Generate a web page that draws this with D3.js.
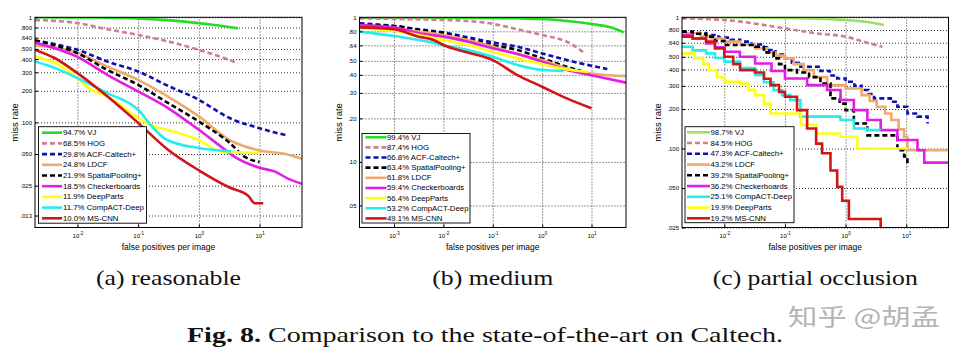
<!DOCTYPE html>
<html>
<head>
<meta charset="utf-8">
<script src="https://cdn.jsdelivr.net/npm/d3@7"></script>
<style>
  body { margin: 0; background: #fff; }
  svg text { font-family: "Liberation Sans", Arial, sans-serif; }
</style>
</head>
<body>
<div id="chart"></div>
<script>
/* DATA */
// method keys, one list per panel (legend order)
const methodsA = ["VJ", "HOG", "ACF-Caltech+", "LDCF", "SpatialPooling+", "Checkerboards", "DeepParts", "CompACT-Deep", "MS-CNN"];
const methodsB = ["VJ", "HOG", "ACF-Caltech+", "SpatialPooling+", "LDCF", "Checkerboards", "DeepParts", "CompACT-Deep", "MS-CNN"];
const methodsC = ["VJ", "HOG", "ACF-Caltech+", "LDCF", "SpatialPooling+", "Checkerboards", "CompACT-Deep", "DeepParts", "MS-CNN"];

const labelsA = ["94.7% VJ", "68.5% HOG", "29.8% ACF-Caltech+", "24.8% LDCF", "21.9% SpatialPooling+", "18.5% Checkerboards", "11.9% DeepParts", "11.7% CompACT-Deep", "10.0% MS-CNN"];
const labelsB = ["99.4% VJ", "87.4% HOG", "66.8% ACF-Caltech+", "63.4% SpatialPooling+", "61.8% LDCF", "59.4% Checkerboards", "56.4% DeepParts", "53.2% CompACT-Deep", "49.1% MS-CNN"];
const labelsC = ["98.7% VJ", "84.5% HOG", "47.3% ACF-Caltech+", "43.2% LDCF", "39.2% SpatialPooling+", "36.2% Checkerboards", "25.1% CompACT-Deep", "19.9% DeepParts", "19.2% MS-CNN"];

// [false positives per image, miss rate]
const curvesA = [
  [[0.002,1.0],[0.02,0.995],[0.06,0.985],[0.1,0.975],[0.3,0.94],[1,0.88],[2.3,0.83],[4.4,0.785]],
  [[0.002,0.94],[0.005,0.92],[0.01,0.88],[0.031,0.77],[0.1,0.68],[0.31,0.59],[1,0.49],[2.3,0.42],[4.4,0.365]],
  [[0.002,0.6],[0.004,0.56],[0.01,0.49],[0.031,0.38],[0.1,0.305],[0.31,0.223],[1,0.164],[3.2,0.11],[10,0.088],[18,0.08],[26.6,0.076]],
  [[0.002,0.54],[0.01,0.46],[0.031,0.34],[0.1,0.254],[0.31,0.176],[1,0.114],[3.2,0.068],[10,0.054],[26.6,0.05],[50,0.045]],
  [[0.002,0.6],[0.01,0.455],[0.031,0.316],[0.1,0.228],[0.31,0.153],[1,0.102],[3.2,0.064],[5.7,0.047],[10,0.042]],
  [[0.002,0.575],[0.01,0.42],[0.031,0.284],[0.1,0.197],[0.31,0.137],[1,0.085],[2.3,0.059],[3.9,0.047],[10,0.037],[18,0.034],[30,0.029],[50,0.026]],
  [[0.002,0.42],[0.0042,0.37],[0.01,0.264],[0.0153,0.212],[0.031,0.177],[0.1,0.11],[0.176,0.092],[0.3,0.085],[1,0.068],[2.3,0.053],[10,0.051]],
  [[0.002,0.38],[0.0042,0.33],[0.01,0.264],[0.031,0.19],[0.1,0.132],[0.176,0.089],[0.3,0.068],[1,0.057],[3.4,0.053]],
  [[0.002,0.49],[0.0042,0.41],[0.01,0.294],[0.031,0.177],[0.1,0.099],[0.31,0.055],[1,0.035],[3.2,0.024],[6.5,0.02],[8.4,0.017],[11.5,0.017]]
];
const curvesB = [
  [[0.0002,0.995],[0.01,0.995],[0.1,0.99],[0.316,0.985],[1,0.974],[3.16,0.943],[10,0.899],[24,0.852],[45,0.787]],
  [[0.0002,0.984],[0.001,0.975],[0.01,0.958],[0.0316,0.943],[0.1,0.9],[0.316,0.826],[1,0.754],[3.16,0.678],[7,0.57]],
  [[0.0002,0.909],[0.001,0.871],[0.00316,0.826],[0.01,0.787],[0.0316,0.727],[0.1,0.671],[0.316,0.626],[1,0.563],[3.16,0.506],[10,0.462],[21,0.439]],
  [[0.0002,0.885],[0.001,0.87],[0.00316,0.817],[0.01,0.775],[0.0316,0.704],[0.1,0.643],[0.316,0.594],[1,0.52],[3.16,0.455],[7,0.42]],
  [[0.0002,0.862],[0.001,0.839],[0.00316,0.796],[0.01,0.754],[0.0316,0.697],[0.1,0.626],[0.316,0.557],[1,0.506],[3.16,0.443],[10,0.409],[50,0.392]],
  [[0.0002,0.885],[0.001,0.852],[0.00316,0.775],[0.01,0.735],[0.0316,0.678],[0.1,0.61],[0.316,0.557],[1,0.493],[3.16,0.432],[10,0.398],[50,0.353]],
  [[0.0002,0.839],[0.001,0.809],[0.00316,0.754],[0.01,0.697],[0.0316,0.643],[0.1,0.578],[0.316,0.52],[1,0.475],[3.16,0.436],[8.5,0.42]],
  [[0.0002,0.796],[0.001,0.743],[0.00316,0.697],[0.0063,0.668],[0.01,0.64],[0.0316,0.594],[0.1,0.534],[0.316,0.468],[1,0.432],[2.75,0.425]],
  [[0.0002,0.852],[0.001,0.826],[0.00316,0.735],[0.0063,0.697],[0.01,0.643],[0.0316,0.57],[0.1,0.506],[0.316,0.398],[1,0.331],[3.16,0.275],[10,0.235]]
];
const curvesC = [
  [[0.002,1.0],[0.1,0.99],[0.5,0.97],[1,0.954],[2.3,0.92],[4.3,0.874]],
  [[0.002,0.98],[0.01,0.954],[0.1,0.824],[0.327,0.755],[1,0.712],[2.29,0.64],[4.05,0.597]],
  [[0.002,0.777],[0.003,0.76],[0.005,0.733],[0.008,0.7],[0.0125,0.675],[0.0182,0.652],[0.028,0.62],[0.04,0.59],[0.0504,0.563],[0.07,0.52],[0.1,0.486],[0.13,0.45],[0.18,0.42],[0.385,0.39],[0.55,0.36],[0.728,0.342],[1,0.323],[1.4,0.3],[1.84,0.279],[2.4,0.26],[2.95,0.241],[5.57,0.227],[7.18,0.208],[10.5,0.185],[15.4,0.175],[22.6,0.155]],
  [[0.002,0.755],[0.004,0.72],[0.006,0.69],[0.01,0.652],[0.018,0.62],[0.0322,0.58],[0.05,0.54],[0.07,0.51],[0.1,0.486],[0.14,0.44],[0.204,0.396],[0.3,0.35],[0.497,0.304],[1,0.287],[1.84,0.255],[2.5,0.23],[3.27,0.208],[4.5,0.185],[5.7,0.165],[7.5,0.14],[9.26,0.123],[10.5,0.097],[50,0.097]],
  [[0.002,0.777],[0.003,0.75],[0.005,0.712],[0.007,0.66],[0.01,0.615],[0.0322,0.597],[0.045,0.54],[0.0649,0.486],[0.08,0.44],[0.1,0.396],[0.158,0.38],[0.25,0.35],[0.385,0.313],[0.564,0.241],[0.8,0.22],[1,0.196],[1.37,0.155],[2.29,0.126],[4.91,0.126],[7.18,0.097],[9.26,0.087],[10.5,0.073]],
  [[0.002,0.733],[0.003,0.69],[0.005,0.633],[0.007,0.59],[0.01,0.547],[0.018,0.5],[0.0322,0.445],[0.06,0.39],[0.1,0.342],[0.232,0.304],[0.497,0.279],[0.826,0.234],[1.37,0.196],[2.29,0.165],[3.8,0.138],[7.18,0.116],[15.4,0.097],[19.9,0.078],[50,0.078]],
  [[0.002,0.597],[0.003,0.56],[0.005,0.531],[0.007,0.49],[0.01,0.459],[0.018,0.41],[0.0322,0.363],[0.045,0.32],[0.0649,0.279],[0.09,0.255],[0.122,0.234],[0.18,0.175],[0.826,0.165],[1.37,0.142],[2.29,0.138],[3.8,0.138]],
  [[0.002,0.531],[0.0032,0.486],[0.0045,0.44],[0.0056,0.396],[0.0075,0.35],[0.01,0.323],[0.0182,0.313],[0.025,0.28],[0.0322,0.255],[0.045,0.22],[0.0578,0.185],[0.1,0.185],[0.184,0.151],[0.327,0.13],[0.826,0.123],[1.56,0.1],[10.5,0.1]],
  [[0.002,0.712],[0.003,0.69],[0.005,0.652],[0.007,0.58],[0.01,0.501],[0.014,0.44],[0.0182,0.396],[0.0322,0.38],[0.045,0.34],[0.0578,0.304],[0.08,0.27],[0.1,0.248],[0.158,0.196],[0.232,0.142],[0.327,0.109],[0.41,0.092],[0.564,0.068],[0.728,0.051],[0.881,0.04],[1.135,0.029],[3.8,0.029],[3.8,0.02]]
];

// axis ticks
const yTicksA = [1, 0.8, 0.64, 0.5, 0.4, 0.3, 0.2, 0.1, 0.05, 0.025, 0.013];
const yTickLabelsA = ["1", ".800", ".640", ".500", ".400", ".300", ".200", ".100", ".050", ".025", ".013"];
const yTicksB = [1, 0.8, 0.64, 0.5, 0.4, 0.3, 0.2, 0.1, 0.05];
const yTickLabelsB = ["1", ".80", ".64", ".50", ".40", ".30", ".20", ".10", ".05"];
const yTicksC = [1, 0.8, 0.64, 0.5, 0.4, 0.3, 0.2, 0.1, 0.05, 0.025];
const yTickLabelsC = ["1", ".800", ".640", ".500", ".400", ".300", ".200", ".100", ".050", ".025"];
const xExponentsA = [-2, -1, 0, 1];
const xExponentsB = [-3, -2, -1, 0, 1];
const xExponentsC = [-2, -1, 0, 1];

const captions = ["(a) reasonable", "(b) medium", "(c) partial occlusion"];

/* STYLES */
const styles = {
  "VJ":              { color: "#22dd22", dash: null },
  "HOG":             { color: "#cc8090", dash: "5,3" },
  "ACF-Caltech+":    { color: "#1010b0", dash: "5,3" },
  "LDCF":            { color: "#eeaa6c", dash: null },
  "SpatialPooling+": { color: "#000000", dash: "5,3" },
  "Checkerboards":   { color: "#e41ce4", dash: null },
  "DeepParts":       { color: "#ffff14", dash: null },
  "CompACT-Deep":    { color: "#26ecec", dash: null },
  "MS-CNN":          { color: "#d01616", dash: null }
};

const panels = [
  { left: 35, right: 302, top: 17.3, bottom: 227.5, xDomain: [0.002, 50], yDomain: [0.01, 1],
    yTicks: yTicksA, yLabels: yTickLabelsA, xExp: xExponentsA, methods: methodsA, labels: labelsA, curves: curvesA,
    legend: { x: 38.5, y: 126.7, w: 108, h: 96.5, row0: 132.7, dy: 10.7, l0: 42, l1: 62, tx: 63 },
    ylabX: 15, step: false, caption: captions[0] },
  { left: 359.5, right: 626, top: 17.3, bottom: 227.5, xDomain: [0.0002, 50], yDomain: [0.0352, 1],
    yTicks: yTicksB, yLabels: yTickLabelsB, xExp: xExponentsB, methods: methodsB, labels: labelsB, curves: curvesB,
    legend: { x: 362, y: 133.5, w: 108, h: 89.5, row0: 137.2, dy: 10.15, l0: 365.5, l1: 386.5, tx: 387 },
    ylabX: 339, step: false, caption: captions[1] },
  { left: 682, right: 948.5, top: 17.3, bottom: 227.5, xDomain: [0.002, 50], yDomain: [0.025, 1],
    yTicks: yTicksC, yLabels: yTickLabelsC, xExp: xExponentsC, methods: methodsC, labels: labelsC, curves: curvesC,
    legend: { x: 685, y: 126.7, w: 109, h: 96, row0: 132.3, dy: 10.75, l0: 687, l1: 710, tx: 710.5 },
    ylabX: 658, step: true, caption: captions[2], vjColor: "#99e066" }
];

/* SVG */
const svg = d3.select("#chart")
  .append("svg")
  .attr("width", 966)
  .attr("height", 354)
  .style("background", "#fff");

panels.forEach(function(p, pi) {
  const xScale = d3.scaleLog().domain(p.xDomain).range([p.left, p.right]);
  const yScale = d3.scaleLog().domain(p.yDomain).range([p.bottom, p.top]);
  const xTicks = p.xExp.map(e => Math.pow(10, e));
  const g = svg.append("g");
  const h = p.bottom - p.top, w = p.right - p.left;

  // grid
  const gx = g.append("g")
    .attr("transform", `translate(0,${p.bottom})`)
    .call(d3.axisBottom(xScale).tickValues(xTicks).tickSize(-h).tickFormat(""));
  const gy = g.append("g")
    .attr("transform", `translate(${p.left},0)`)
    .call(d3.axisLeft(yScale).tickValues(p.yTicks).tickSize(-w).tickFormat(""));
  [gx, gy].forEach(function(a) {
    a.select(".domain").remove();
    a.selectAll("line").attr("stroke", "#000").attr("stroke-width", 0.8).attr("stroke-dasharray", "1,2");
  });

  // curves
  const clipId = "clip" + pi;
  svg.append("clipPath").attr("id", clipId)
    .append("rect").attr("x", p.left).attr("y", p.top).attr("width", w).attr("height", h);

  p.methods.forEach(function(m, i) {
    const st = styles[m];
    const stepped = p.step && i > 1;
    const line = d3.line()
      .x(d => xScale(d[0]))
      .y(d => yScale(d[1]))
      .curve(stepped ? d3.curveStepAfter : d3.curveMonotoneX);
    g.append("path")
      .datum(p.curves[i])
      .attr("clip-path", `url(#${clipId})`)
      .attr("fill", "none")
      .attr("stroke", (m === "VJ" && p.vjColor) ? p.vjColor : st.color)
      .attr("stroke-width", 2.6)
      .attr("stroke-dasharray", st.dash)
      .attr("d", line);
  });

  // axes (ticks inside)
  const ax = g.append("g")
    .attr("transform", `translate(0,${p.bottom})`)
    .call(d3.axisBottom(xScale).tickValues(xTicks).tickSizeInner(-3).tickSizeOuter(0).tickPadding(6));
  ax.select(".domain").remove();
  ax.selectAll(".tick text")
    .attr("font-size", "6px")
    .attr("fill", "#000")
    .each(function(d) {
      const t = d3.select(this);
      t.text("10");
      t.append("tspan").attr("dy", "-0.55em").attr("font-size", "4.5px").text(Math.round(Math.log10(d)));
    });

  const ay = g.append("g")
    .attr("transform", `translate(${p.left},0)`)
    .call(d3.axisLeft(yScale).tickValues(p.yTicks).tickSizeInner(-3).tickSizeOuter(0).tickPadding(3)
      .tickFormat((d, i) => p.yLabels[i]));
  ay.select(".domain").remove();
  ay.selectAll(".tick text").attr("font-size", "6px").attr("fill", "#000");

  // frame
  g.append("rect")
    .attr("x", p.left).attr("y", p.top).attr("width", w).attr("height", h)
    .attr("fill", "none").attr("stroke", "#000").attr("stroke-width", 1);

  // axis titles
  g.append("text")
    .attr("x", (p.left + p.right) / 2).attr("y", 250)
    .attr("text-anchor", "middle").attr("font-size", "8.5px")
    .text("false positives per image");
  g.append("text")
    .attr("transform", `translate(${p.ylabX},${(p.top + p.bottom) / 2}) rotate(-90)`)
    .attr("text-anchor", "middle").attr("dominant-baseline", "middle").attr("font-size", "9.5px")
    .text("miss rate");

  // legend
  const L = p.legend;
  const lg = g.append("g");
  lg.append("rect")
    .attr("x", L.x).attr("y", L.y).attr("width", L.w).attr("height", L.h)
    .attr("fill", "#fff").attr("stroke", "#000").attr("stroke-width", 0.9);
  p.methods.forEach(function(m, i) {
    const st = styles[m];
    const yy = L.row0 + i * L.dy;
    lg.append("line")
      .attr("x1", L.l0).attr("x2", L.l1).attr("y1", yy).attr("y2", yy)
      .attr("stroke", (m === "VJ" && p.vjColor) ? p.vjColor : st.color)
      .attr("stroke-width", 2.6)
      .attr("stroke-dasharray", st.dash);
    lg.append("text")
      .attr("x", L.tx).attr("y", yy)
      .attr("dominant-baseline", "central")
      .attr("font-size", "7.8px")
      .text(p.labels[i]);
  });

  // sub caption
  const capW = [145, 121, 205][pi];
  svg.append("text")
    .attr("x", (p.left + p.right) / 2 - capW / 2).attr("y", 285)
    .attr("font-size", "21px")
    .attr("fill", "#111")
    .attr("textLength", capW).attr("lengthAdjust", "spacingAndGlyphs")
    .style("font-family", "'Liberation Serif', serif")
    .text(p.caption);
});

// figure caption
const cap = svg.append("text")
  .attr("x", 187).attr("y", 342)
  .attr("font-size", "21px")
  .attr("fill", "#111")
  .attr("textLength", 596).attr("lengthAdjust", "spacingAndGlyphs")
  .style("font-family", "'Liberation Serif', serif");
cap.append("tspan").attr("font-weight", "bold").text("Fig. 8.");
cap.append("tspan").text(" Comparison to the state-of-the-art on Caltech.");

// watermark
svg.append("text")
  .attr("x", 788).attr("y", 325)
  .attr("font-size", "23px")
  .attr("fill", "#b4b4b4")
  .attr("textLength", 152).attr("lengthAdjust", "spacingAndGlyphs")
  .style("font-family", "'Noto Sans CJK SC', sans-serif")
  .text("知乎 @胡孟");
</script>
</body>
</html>
